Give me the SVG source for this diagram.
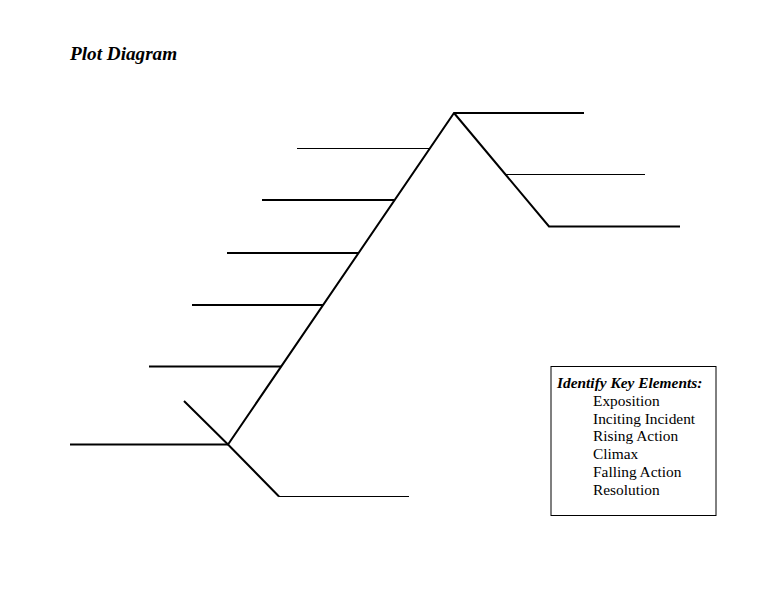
<svg xmlns="http://www.w3.org/2000/svg" width="768" height="594" viewBox="0 0 768 594">
<style>
.thick{stroke:#000;stroke-width:2;fill:none;stroke-linecap:butt}
.thin{stroke:#000;stroke-width:1.2;fill:none}
.t{font-family:"Liberation Serif","Times New Roman",serif;font-size:15.4px;fill:#000}
.bi{font-weight:bold;font-style:italic}
</style>
<rect width="768" height="594" fill="#fff"/>
<text id="title" class="t bi" x="70" y="60" style="font-size:19.2px">Plot Diagram</text>
<g id="connectors">
<polyline class="thick" points="70,444.5 228,444.5 454,113 584,113"/>
<polyline class="thick" points="184,401 228,444.5 279,496.5"/>
<line class="thin" x1="279" y1="496.5" x2="409" y2="496.5"/>
<polyline class="thick" points="454,113 549,226.5 680,226.5"/>
<line class="thin" x1="506" y1="174.5" x2="645" y2="174.5"/>
<line class="thin" x1="297" y1="148.5" x2="430" y2="148.5"/>
<line class="thick" x1="262" y1="200" x2="394" y2="200"/>
<line class="thick" x1="227" y1="253" x2="358" y2="253"/>
<line class="thick" x1="192" y1="305" x2="323" y2="305"/>
<line class="thick" x1="149" y1="366.5" x2="281" y2="366.5"/>
</g>
<g id="legend">
<rect x="551" y="366.5" width="165" height="149" fill="#fff" stroke="#000" stroke-width="1"/>
<text class="t bi" x="557" y="388">Identify Key Elements:</text>
<text class="t" x="593" y="406">Exposition</text>
<text class="t" x="593" y="424">Inciting Incident</text>
<text class="t" x="593" y="441">Rising Action</text>
<text class="t" x="593" y="459">Climax</text>
<text class="t" x="593" y="477">Falling Action</text>
<text class="t" x="593" y="495">Resolution</text>
</g>
</svg>
